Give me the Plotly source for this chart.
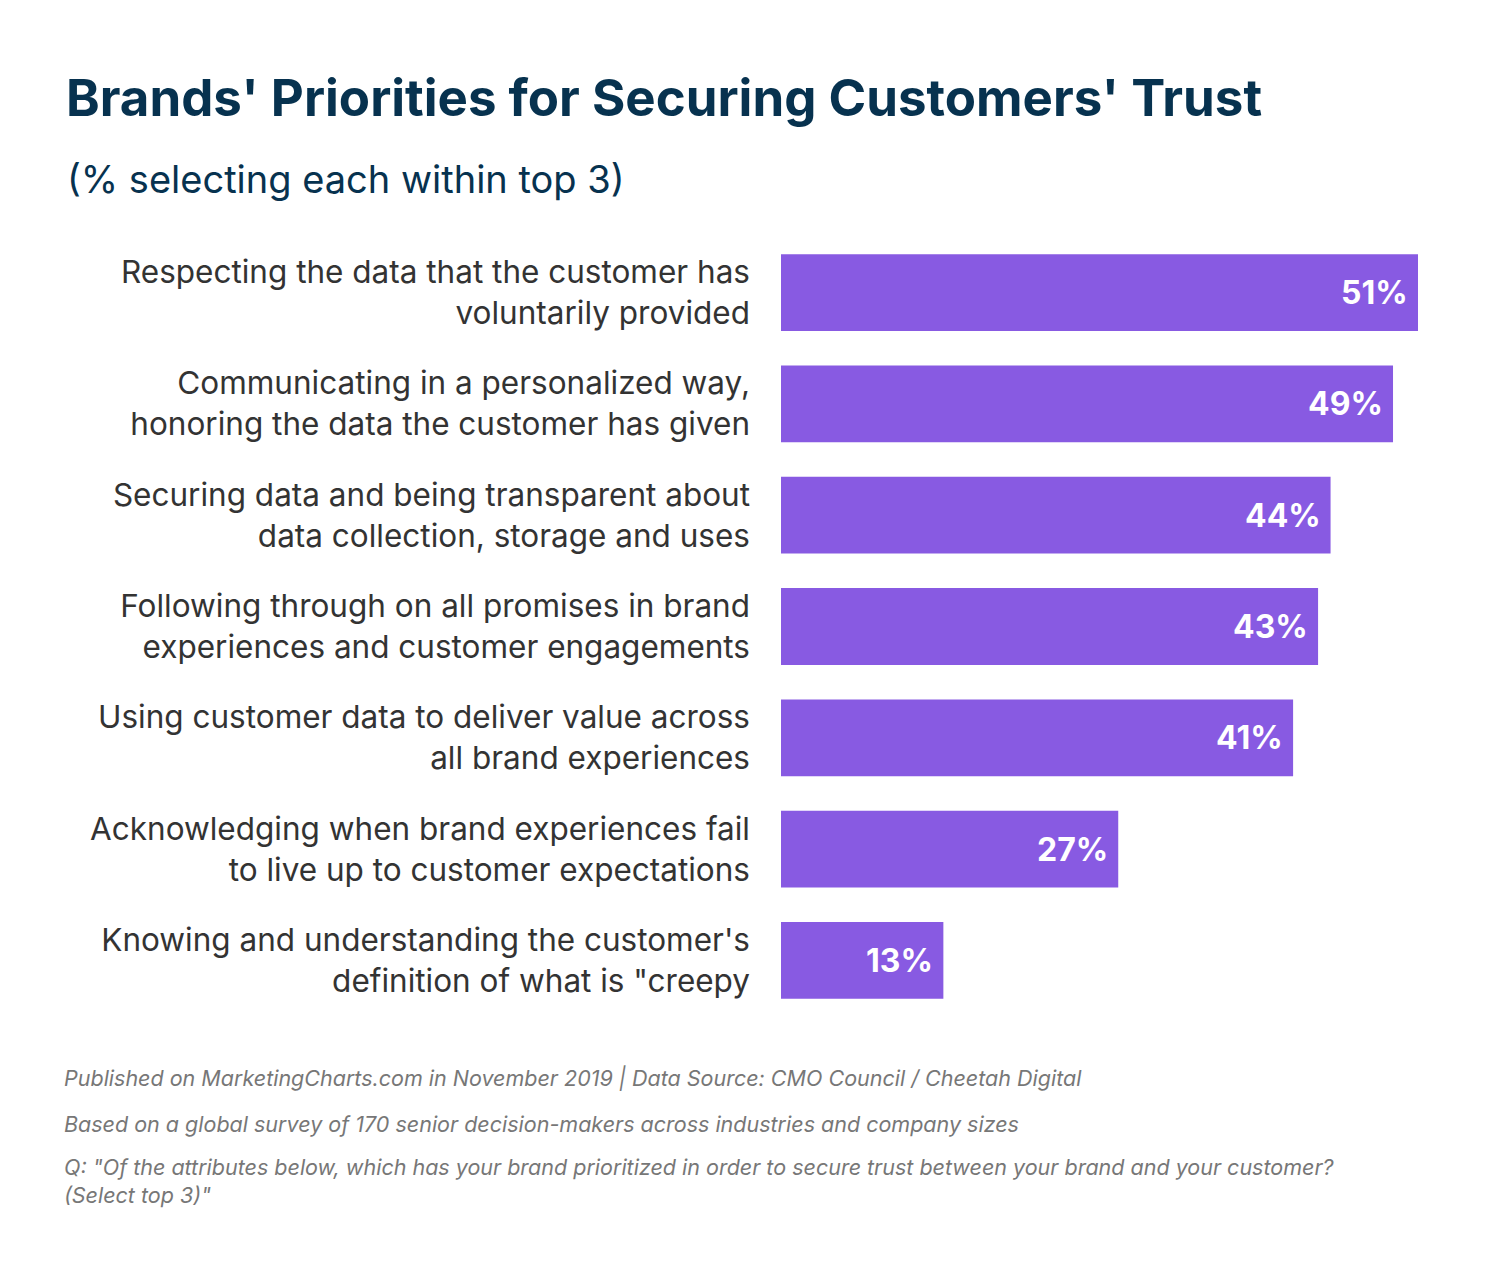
import plotly.graph_objects as go

categories = [
    "Respecting the data that the customer has<br>voluntarily provided",
    "Communicating in a personalized way,<br>honoring the data the customer has given",
    "Securing data and being transparent about<br>data collection, storage and uses",
    "Following through on all promises in brand<br>experiences and customer engagements",
    "Using customer data to deliver value across<br>all brand experiences",
    "Acknowledging when brand experiences fail<br>to live up to customer expectations",
    "Knowing and understanding the customer's<br>definition of what is \"creepy",
]
values = [51, 49, 44, 43, 41, 27, 13]

title = "Brands' Priorities for Securing Customers' Trust"
subtitle = "(% selecting each within top 3)"
notes = [
    "Published on MarketingCharts.com in November 2019 | Data Source: CMO Council / Cheetah Digital",
    "Based on a global survey of 170 senior decision-makers across industries and company sizes",
    "Q: \"Of the attributes below, which has your brand prioritized in order to secure trust between your brand and your customer?<br>(Select top 3)\"",
]

W, H = 1510, 1281
L, R, T, B = 781, 60, 237, 265
pw, ph = W - L - R, H - T - B
px_per_pct = (1418 - 781) / 51.0


def px_x(px):
    return (px - L) / pw


def px_y(py):
    return (H - B - py) / ph


fig = go.Figure(
    go.Bar(
        x=values,
        y=categories,
        orientation="h",
        marker=dict(color="#885AE2", line=dict(width=0)),
        hoverinfo="skip",
    )
)

for c, v in zip(categories, values):
    fig.add_annotation(
        x=v, y=c, xref="x", yref="y", text=f"<b>{v}%</b>",
        xanchor="right", yanchor="middle", xshift=-8, showarrow=False,
        font=dict(family="Inter", size=32, color="white"),
    )

fig.add_annotation(
    x=px_x(64), y=px_y(97), xref="paper", yref="paper", text=f"<b>{title}</b>",
    xanchor="left", yanchor="middle", showarrow=False,
    font=dict(family="Inter", size=51, color="#07324F"),
)
fig.add_annotation(
    x=px_x(65), y=px_y(179), xref="paper", yref="paper", text=subtitle,
    xanchor="left", yanchor="middle", showarrow=False,
    font=dict(family="Inter", size=38, color="#07324F"),
)
note_y = [1078, 1124, 1181]
for t, yy in zip(notes, note_y):
    fig.add_annotation(
        x=px_x(62), y=px_y(yy), xref="paper", yref="paper", text=f"<i>{t}</i>",
        xanchor="left", yanchor="middle", align="left", showarrow=False,
        font=dict(family="Inter", size=21.5, color="#777777"),
    )

fig.update_layout(
    width=W, height=H,
    margin=dict(l=L, r=R, t=T, b=B, autoexpand=False),
    paper_bgcolor="white", plot_bgcolor="white",
    bargap=0.31,
    showlegend=False,
    xaxis=dict(range=[0, pw / px_per_pct], visible=False, fixedrange=True),
    yaxis=dict(
        autorange="reversed", showgrid=False, zeroline=False, showline=False,
        ticks="", ticklabelstandoff=30,
        tickfont=dict(family="Inter", size=31.5, color="#333333"),
        fixedrange=True,
    ),
)

fig.write_html("out.html")
